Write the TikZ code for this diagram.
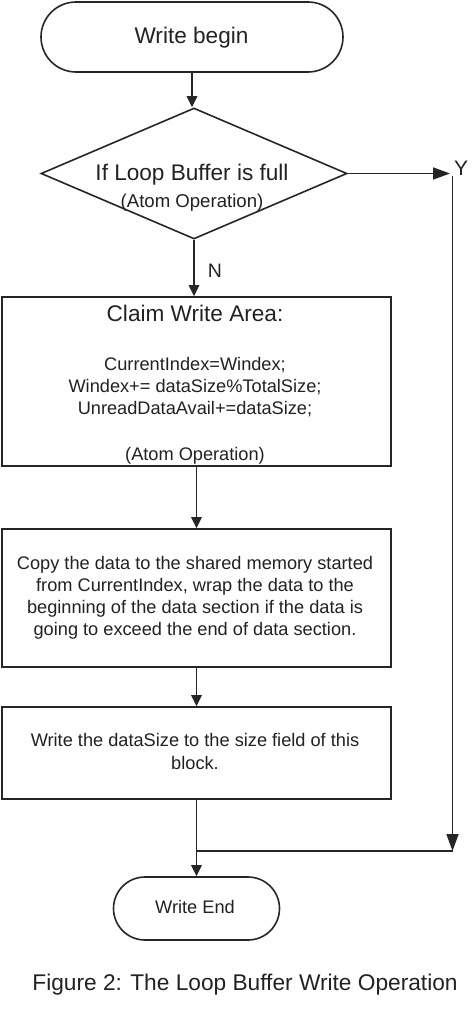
\documentclass[tikz,border=0pt]{standalone}
\usepackage{fontspec}
\setmainfont{Liberation Sans}
\usetikzlibrary{arrows.meta,shapes.geometric}
\definecolor{lc}{HTML}{262626}
\definecolor{tc}{HTML}{222222}
\begin{document}
\begin{tikzpicture}[x=1pt,y=-1pt,
  line/.style={draw=lc, line width=1.6pt},
  arr/.style={line, -{Triangle[length=11pt,width=10.5pt]}},
  bigarr/.style={line, -{Triangle[length=17pt,width=12pt]}},
  term/.style={line, rectangle, rounded corners=#1, inner sep=0pt},
  procbox/.style={line, rectangle, inner sep=0pt},
  dec/.style={line, diamond, inner sep=0pt, aspect=2.34},
  bigtxt/.style={font=\fontsize{22.6}{27}\selectfont, text=tc, inner sep=0pt, anchor=base},
  smalltxt/.style={font=\fontsize{18.2}{21.7}\selectfont, text=tc, inner sep=0pt, anchor=base, align=center},
]
\useasboundingbox[fill=white] (0,0) rectangle (474,1009);

% shapes
\node[term=35pt, minimum width=302pt, minimum height=70pt] (wb) at (192,37) {};
\node[dec, minimum width=306pt, minimum height=131pt] (d) at (194,173.5) {};
\node[procbox, minimum width=389pt, minimum height=169pt] (b1) at (196.5,381.5) {};
\node[procbox, minimum width=389pt, minimum height=138pt] (b2) at (196.5,598) {};
\node[procbox, minimum width=389pt, minimum height=92pt] (b3) at (196.5,753) {};
\node[term=31.5pt, minimum width=166pt, minimum height=63pt] (we) at (196.5,908.5) {};

% texts (anchor base = baseline of the last line)
\node[bigtxt] (wbt) at (191.5,43) {Write begin};
\node[bigtxt] (dt1) at (192,180.7) {If Loop Buffer is full};
\node[smalltxt, font=\fontsize{18.6}{22}\selectfont] (dt2) at (192,207) {(Atom Operation)};
\node[bigtxt] (b1t) at (195,321) {Claim Write Area:};
\node[smalltxt, font=\fontsize{18.2}{22}\selectfont] (b1c) at (195,414) {CurrentIndex=Windex;\\Windex+= dataSize\%TotalSize;\\UnreadDataAvail+=dataSize;};
\node[smalltxt] (b1a) at (195,460) {(Atom Operation)};
\node[smalltxt] (b2t) at (195,635) {Copy the data to the shared memory started\\from CurrentIndex, wrap the data to the\\beginning of the data section if the data is\\going to exceed the end of data section.};
\node[smalltxt, font=\fontsize{18.2}{22.5}\selectfont] (b3t) at (195,769) {Write the dataSize to the size field of this\\block.};
\node[smalltxt] (wet) at (195,913.3) {Write End};
\node[bigtxt, font=\fontsize{21}{25}\selectfont] (ylab) at (461,175) {Y};
\node[bigtxt, font=\fontsize{19.5}{23}\selectfont] (nlab) at (215,277) {N};
\node[bigtxt, font=\fontsize{22.7}{27}\selectfont] (cap) at (245,990) {Figure 2: The Loop Buffer Write Operation};

% helper points
\coordinate (ytip) at (450,173.5);
\coordinate (rtop) at (452.5,176);
\coordinate (rbot) at (452.5,851);
\coordinate (merge) at (196.5,851);

% connectors
\draw[arr] (wb.south) -- (wb.south |- d.north);
\draw[arr] (d.south) -- (d.south |- b1.north);
\draw[arr] (b1.south) -- (b2.north);
\draw[arr] (b2.south) -- (b3.north);
\draw[arr] (b3.south) -- (we.north);
\draw[bigarr] (d.east) -- (ytip);
\draw[bigarr] (rtop) -- (rbot);
\draw[line] (rbot) -- (merge);
\end{tikzpicture}
\end{document}
